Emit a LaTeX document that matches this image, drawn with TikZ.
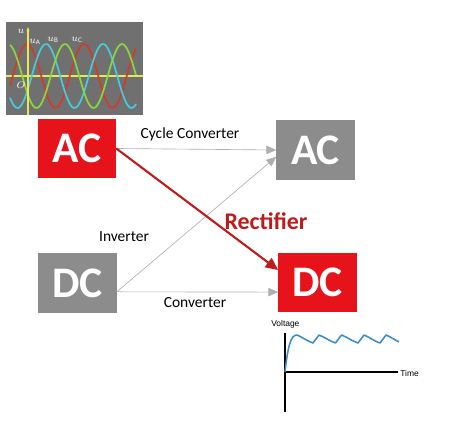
\documentclass[tikz,border=0pt]{standalone}
\usepackage{fontspec}
\setmainfont{Carlito}
\newfontfamily\plotfont{Liberation Sans}
\usepackage{tikz}
\usetikzlibrary{arrows.meta}

\definecolor{boxred}{RGB}{230,20,26}
\definecolor{boxgray}{RGB}{140,140,140}
\definecolor{darkred}{RGB}{192,26,26}
\definecolor{linegray}{RGB}{175,175,175}
\definecolor{scopegray}{RGB}{112,112,112}
\definecolor{wavered}{RGB}{205,60,45}
\definecolor{wavecyan}{RGB}{70,205,220}
\definecolor{wavegreen}{RGB}{140,215,60}
\definecolor{axisyellow}{RGB}{232,230,90}
\definecolor{waveblue}{RGB}{60,140,200}

\tikzset{
    acdc/.style={minimum width=1.95cm, minimum height=1.48cm, inner sep=0pt,
        text=white, font=\fontsize{31}{31}\selectfont\bfseries},
    convline/.style={linegray, line width=0.45pt, -{Triangle[length=7pt,width=6pt]}},
    lbl/.style={font=\fontsize{11}{13}\selectfont},
}

\begin{document}
\begin{tikzpicture}[x=0.025cm,y=-0.025cm]
    \useasboundingbox (0,0) rectangle (455,448);

    % three-phase voltages
    \fill[scopegray] (6,22) rectangle (143,115);
    \begin{scope}
        \clip (6,22) rectangle (143,115);
        \draw[axisyellow, line width=1.2pt] (6,76) -- (143,76);
        \draw[wavered, line width=1.2pt] plot[domain=10:136, samples=80, smooth] (\x,{76-32*cos((\x-27)*6.3158)});
        \draw[wavecyan, line width=1.2pt] plot[domain=10:136, samples=80, smooth] (\x,{76-32*cos((\x-46)*6.3158)});
        \draw[wavegreen, line width=1.2pt] plot[domain=10:136, samples=80, smooth] (\x,{76-32*cos((\x-65)*6.3158)});
        \draw[axisyellow, line width=1.2pt, -{Stealth[length=3pt]}] (28,115) -- (28,27);
    \end{scope}
    \node[text=white] (u) at (21,31) {\scriptsize$u$};
    \node[text=white] (ua) at (35,42) {\scriptsize$u_{\mathrm{A}}$};
    \node[text=white] (ub) at (53,40) {\scriptsize$u_{\mathrm{B}}$};
    \node[text=white] (uc) at (77,40) {\scriptsize$u_{\mathrm{C}}$};
    \node[text=white] (o) at (21,85) {\scriptsize$O$};

    % boxes
    \node[acdc, fill=boxred] (acl) at (77,148.5) {AC};
    \node[acdc, fill=boxgray] (acr) at (315.5,150) {AC};
    \node[acdc, fill=boxgray] (dcl) at (77.5,283) {DC};
    \node[acdc, fill=boxred] (dcr) at (317.5,282.5) {DC};

    \draw[convline] (acl.east) -- (acr.west);
    \draw[convline] ([yshift=-0.22cm]dcl.east) -- ([yshift=-0.17cm]acr.west);
    \draw[convline] ([yshift=-0.22cm]dcl.east) -- ([yshift=-0.24cm]dcr.west);
    \draw[darkred, line width=1.5pt, -{Triangle[length=9pt,width=8pt]}] (acl.east) -- ([yshift=0.31cm]dcr.west);

    \node[lbl] (cyc) at (190,134) {Cycle Converter};
    \node[lbl] (inv) at (124,237) {Inverter};
    \node[lbl] (conv) at (195,303) {Converter};
    \node[text=darkred, font=\fontsize{17}{17}\selectfont\bfseries] (rect) at (266,221) {Rectifier};

    % rectified output
    \draw[line width=0.9pt] (285,333) -- (285,412);
    \draw[line width=0.9pt] (285,372) -- (398,372);
    \node[font=\plotfont\fontsize{6}{6}\selectfont, anchor=west, inner sep=0pt] (volt) at (271,324) {Voltage};
    \node[font=\plotfont\fontsize{6}{6}\selectfont, anchor=west, inner sep=0pt] (time) at (400,373) {Time};
    \draw[waveblue, line width=1.1pt, line join=round]
        (285,372) .. controls (288,345) and (291,335) .. (297,335)
        \foreach \p in {297,319.5,342,364} {
            .. controls (\p+5,337) and (\p+10,341) .. (\p+16,343) -- (\p+22,335)
        }
        .. controls (391,337) and (395,340) .. (399,342);
\end{tikzpicture}
\end{document}
